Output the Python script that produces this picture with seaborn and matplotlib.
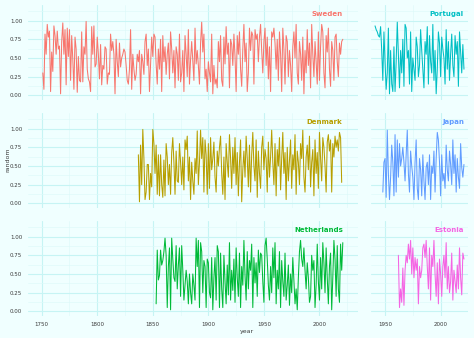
import matplotlib
matplotlib.use("Agg")
import matplotlib.pyplot as plt
import numpy as np
import pandas as pd
import seaborn as sns

# ---- data: yearly "random" values per country ----
sweden_start = 1751
sweden = [
    0.30, 0.08, 0.82, 0.55, 0.95, 0.78, 0.86, 0.05, 0.58, 0.32,
    0.93, 0.80, 0.55, 0.86, 0.62, 0.66, 0.02, 0.72, 0.97, 0.55,
    0.88, 0.14, 0.90, 0.52, 0.88, 0.20, 0.80, 0.48, 0.08, 0.78,
    0.62, 0.04, 0.52, 0.20, 0.18, 0.85, 0.18, 0.65, 0.55, 0.99,
    0.35, 0.22, 0.18, 0.05, 0.92, 0.55, 0.93, 0.38, 0.42, 0.78,
    0.55, 0.22, 0.68, 0.14, 0.40, 0.35, 0.65, 0.62, 0.15, 0.30,
    0.28, 0.82, 0.60, 0.72, 0.55, 0.02, 0.75, 0.45, 0.25, 0.70,
    0.38, 0.50, 0.55, 0.62, 0.58, 0.40, 0.20, 0.15, 0.35, 0.88,
    0.08, 0.55, 0.35, 0.20, 0.28, 0.55, 0.45, 0.60, 0.02, 0.55,
    0.45, 0.28, 0.72, 0.82, 0.40, 0.62, 0.05, 0.40, 0.78, 0.52,
    0.82, 0.78, 0.42, 0.15, 0.62, 0.35, 0.75, 0.05, 0.80, 0.45,
    0.65, 0.28, 0.55, 0.70, 0.22, 0.85, 0.62, 0.30, 0.60, 0.10,
    0.65, 0.55, 0.20, 0.82, 0.18, 0.30, 0.60, 0.05, 0.80, 0.55,
    0.25, 0.88, 0.15, 0.48, 0.72, 0.45, 0.20, 0.90, 0.42, 0.60,
    0.40, 0.15, 0.70, 0.98, 0.58, 0.82, 0.22, 0.35, 0.05, 0.45,
    0.30, 0.18, 0.82, 0.02, 0.40, 0.15, 0.22, 0.10, 0.72, 0.45,
    0.80, 0.20, 0.12, 0.78, 0.42, 0.92, 0.55, 0.70, 0.10, 0.75,
    0.68, 0.40, 0.82, 0.52, 0.05, 0.80, 0.55, 0.85, 0.35, 0.12,
    0.62, 0.95, 0.45, 0.70, 0.05, 0.30, 0.90, 0.60, 0.85, 0.80,
    0.15, 0.88, 0.75, 0.82, 0.45, 0.78, 0.95, 0.60, 0.30, 0.72,
    0.90, 0.40, 0.78, 0.22, 0.65, 0.05, 0.85, 0.78, 0.90, 0.70,
    0.35, 0.75, 0.20, 0.85, 0.55, 0.05, 0.90, 0.62, 0.15, 0.80,
    0.72, 0.25, 0.60, 0.40, 0.05, 0.65, 0.85, 0.50, 0.95, 0.30,
    0.15, 0.72, 0.55, 0.20, 0.78, 0.02, 0.60, 0.30, 0.88, 0.40,
    0.70, 0.10, 0.95, 0.55, 0.25, 0.72, 0.45, 0.15, 0.85, 0.20,
    0.65, 0.95, 0.85, 0.30, 0.10, 0.80, 0.58, 0.90, 0.35, 0.12,
    0.72, 0.60, 0.20, 0.78, 0.82, 0.45, 0.25, 0.70, 0.55, 0.72,
    0.75,
]

denmark_start = 1837
denmark = [
    0.65, 0.02, 0.78, 0.25, 0.99, 0.60, 0.05, 0.15, 0.52, 0.52,
    0.05, 0.40, 0.22, 0.99, 0.80, 0.40, 0.78, 0.12, 0.65, 0.10,
    0.65, 0.25, 0.08, 0.58, 0.10, 0.80, 0.62, 0.25, 0.52, 0.12,
    0.68, 0.88, 0.55, 0.12, 0.70, 0.30, 0.28, 0.80, 0.55, 0.25,
    0.62, 0.18, 0.85, 0.72, 0.90, 0.30, 0.62, 0.05, 0.55, 0.30,
    0.12, 0.60, 0.40, 0.97, 0.25, 0.55, 0.98, 0.60, 0.88, 0.15,
    0.85, 0.65, 0.12, 0.80, 0.20, 0.88, 0.45, 0.60, 0.82, 0.35,
    0.15, 0.70, 0.50, 0.75, 0.90, 0.40, 0.12, 0.62, 0.05, 0.80,
    0.55, 0.35, 0.92, 0.60, 0.20, 0.75, 0.40, 0.88, 0.25, 0.68,
    0.10, 0.55, 0.85, 0.02, 0.45, 0.70, 0.35, 0.90, 0.60, 0.22,
    0.78, 0.15, 0.65, 0.95, 0.50, 0.30, 0.85, 0.08, 0.70, 0.40,
    0.20, 0.75, 0.90, 0.45, 0.72, 0.60, 0.15, 0.82, 0.35, 0.62,
    0.98, 0.55, 0.25, 0.80, 0.10, 0.72, 0.50, 0.88, 0.18, 0.60,
    0.95, 0.40, 0.68, 0.05, 0.75, 0.30, 0.58, 0.85, 0.20, 0.65,
    0.45, 0.92, 0.12, 0.70, 0.55, 0.25, 0.80, 0.60, 0.98, 0.35,
    0.15, 0.62, 0.78, 0.45, 0.90, 0.22, 0.55, 0.72, 0.10, 0.85,
    0.40, 0.68, 0.20, 0.95, 0.60, 0.30, 0.88, 0.75, 0.50, 0.15,
    0.82, 0.92, 0.70, 0.85, 0.15, 0.80, 0.62, 0.90, 0.75, 0.85,
    0.70, 0.95, 0.88, 0.28,
]

netherlands_start = 1853
netherlands = [
    0.10, 0.82, 0.42, 0.48, 0.82, 0.62, 0.68, 0.80, 0.98, 0.75,
    0.05, 0.60, 0.85, 0.02, 0.98, 0.70, 0.45, 0.40, 0.88, 0.30,
    0.62, 0.85, 0.20, 0.88, 0.55, 0.15, 0.35, 0.55, 0.40, 0.10,
    0.50, 0.25, 0.10, 0.50, 0.35, 0.15, 0.98, 0.60, 0.95, 0.05,
    0.92, 0.80, 0.25, 0.68, 0.60, 0.05, 0.70, 0.65, 0.25, 0.18,
    0.72, 0.02, 0.45, 0.72, 0.15, 0.88, 0.80, 0.05, 0.78, 0.30,
    0.05, 0.75, 0.40, 0.10, 0.62, 0.22, 0.92, 0.15, 0.55, 0.28,
    0.70, 0.12, 0.85, 0.45, 0.20, 0.78, 0.05, 0.60, 0.35, 0.95,
    0.48, 0.15, 0.80, 0.30, 0.68, 0.55, 0.90, 0.05, 0.72, 0.38,
    0.65, 0.20, 0.82, 0.52, 0.78, 0.75, 0.40, 0.12, 0.88, 0.98,
    0.70, 0.35, 0.15, 0.60, 0.25, 0.85, 0.45, 0.92, 0.10, 0.55,
    0.30, 0.80, 0.05, 0.68, 0.40, 0.20, 0.78, 0.15, 0.35, 0.62,
    0.08, 0.50, 0.25, 0.72, 0.40, 0.10, 0.30, 0.02, 0.45, 0.80,
    0.95, 0.70, 0.60, 0.85, 0.55, 0.30, 0.65, 0.45, 0.12, 0.20,
    0.75, 0.55, 0.68, 0.05, 0.35, 0.90, 0.40, 0.15, 0.72, 0.30,
    0.92, 0.65, 0.25, 0.85, 0.45, 0.10, 0.60, 0.78, 0.02, 0.45,
    0.95, 0.70, 0.20, 0.88, 0.30, 0.12, 0.90, 0.55, 0.92,
]

portugal_start = 1941
portugal = [
    0.93, 0.88, 0.85, 0.80, 0.78, 0.92, 0.60, 0.20, 0.85, 0.45,
    0.08, 0.30, 0.90, 0.02, 0.60, 0.15, 0.05, 0.65, 0.05, 0.45,
    0.98, 0.55, 0.10, 0.60, 0.30, 0.75, 0.12, 0.95, 0.90, 0.50,
    0.60, 0.15, 0.85, 0.05, 0.50, 0.35, 0.20, 0.78, 0.65, 0.25,
    0.40, 0.88, 0.60, 0.35, 0.10, 0.72, 0.55, 0.92, 0.15, 0.80,
    0.45, 0.30, 0.95, 0.20, 0.60, 0.02, 0.35, 0.85, 0.70, 0.25,
    0.78, 0.62, 0.50, 0.15, 0.88, 0.35, 0.72, 0.20, 0.55, 0.82,
    0.40, 0.25, 0.80, 0.55, 0.72, 0.12, 0.85, 0.58, 0.30, 0.68,
    0.35,
]

japan_start = 1948
japan = [
    0.15, 0.55, 0.60, 0.08, 0.98, 0.40, 0.05, 0.35, 0.78, 0.55,
    0.10, 0.92, 0.15, 0.85, 0.35, 0.80, 0.50, 0.60, 0.75, 0.55,
    0.30, 0.65, 0.98, 0.40, 0.15, 0.70, 0.50, 0.35, 0.05, 0.55,
    0.85, 0.20, 0.05, 0.60, 0.45, 0.10, 0.65, 0.30, 0.05, 0.48,
    0.55, 0.25, 0.65, 0.05, 0.50, 0.40, 0.70, 0.15, 0.60, 0.95,
    0.85, 0.55, 0.10, 0.65, 0.30, 0.40, 0.20, 0.78, 0.45, 0.30,
    0.70, 0.52, 0.25, 0.85, 0.40, 0.65, 0.15, 0.60, 0.35, 0.20,
    0.80, 0.48, 0.35, 0.52,
]

estonia_start = 1962
estonia = [
    0.75, 0.05, 0.30, 0.12, 0.58, 0.08, 0.55, 0.75, 0.65, 0.90,
    0.70, 0.95, 0.50, 0.85, 0.45, 0.72, 0.55, 0.70, 0.10, 0.60,
    0.45, 0.55, 0.85, 0.90, 0.72, 0.95, 0.60, 0.30, 0.85, 0.15,
    0.75, 0.60, 0.95, 0.50, 0.20, 0.65, 0.10, 0.70, 0.50, 0.20,
    0.60, 0.75, 0.45, 0.92, 0.30, 0.60, 0.25, 0.40, 0.78, 0.15,
    0.55, 0.40, 0.25, 0.62, 0.30, 0.85, 0.45, 0.22, 0.78, 0.70,
]

countries = ["Sweden", "Portugal", "Denmark", "Japan", "Netherlands", "Estonia"]
colors = ["#F8766D", "#00BFC4", "#B79F00", "#619CFF", "#00BA38", "#F564E3"]

series = {
    "Sweden": (sweden_start, sweden),
    "Portugal": (portugal_start, portugal),
    "Denmark": (denmark_start, denmark),
    "Japan": (japan_start, japan),
    "Netherlands": (netherlands_start, netherlands),
    "Estonia": (estonia_start, estonia),
}

frames = []
for name, (start, vals) in series.items():
    frames.append(pd.DataFrame({
        "country": name,
        "year": np.arange(start, start + len(vals)),
        "random": vals,
    }))
df = pd.concat(frames, ignore_index=True)

# ---- styling ----
bg = "#F0FFFF"
grid_major = "#C6F4F4"
grid_minor = "#DDF9F9"
text_col = "#3a3a3a"

sns.set_style("white")
plt.rcParams["font.family"] = ["DejaVu Sans"]

W, H = 474, 338
fig = plt.figure(figsize=(W / 100, H / 100), dpi=100, facecolor=bg)


def add_panel(left, top, right, bottom):
    return fig.add_axes([left / W, 1 - bottom / H, (right - left) / W, (bottom - top) / H])


col_px = [(27.8, 357.8), (370.6, 468.4)]
col_xlim = [(1737.5, 2034.5), (1937.0, 2025.0)]
col_major = [np.arange(1750, 2001, 50), np.array([1950, 2000])]
col_minor = [np.arange(1775, 2030, 50), np.array([1975])]
row_px = [(5, 100), (113, 208), (221, 316)]
ylim = (-0.063, 1.21)

for i, (name, color) in enumerate(zip(countries, colors)):
    r, c = divmod(i, 2)
    ax = add_panel(col_px[c][0], row_px[r][0], col_px[c][1], row_px[r][1])
    ax.set_facecolor(bg)
    sub = df[df["country"] == name]
    sns.lineplot(data=sub, x="year", y="random", ax=ax, color=color,
                 linewidth=0.75, legend=False)
    ax.set_xticks(col_major[c])
    ax.set_xticks(col_minor[c], minor=True)
    ax.set_yticks([0, 0.25, 0.5, 0.75, 1.0])
    ax.set_yticks([0.125, 0.375, 0.625, 0.875, 1.125], minor=True)
    ax.set_xlim(*col_xlim[c])
    ax.set_ylim(*ylim)
    ax.grid(True, which="major", color=grid_major, linewidth=0.8)
    ax.grid(True, which="minor", color=grid_minor, linewidth=0.45)
    ax.set_axisbelow(True)
    for s in ax.spines.values():
        s.set_visible(False)
    ax.tick_params(which="both", length=0, labelsize=4, labelcolor=text_col, pad=4)
    ax.set_xlabel("")
    ax.set_ylabel("")
    if r < 2:
        ax.set_xticklabels([])
    if c == 1:
        ax.set_yticklabels([])
    else:
        ax.set_yticklabels(["0.00", "0.25", "0.50", "0.75", "1.00"])
    # country name at the end of its series
    last_year = sub["year"].max()
    ax.text(last_year, 1.09, name, color=color, fontsize=5, fontweight="bold",
            ha="right", va="center")

fig.text(247 / W, 1 - 331 / H, "year", fontsize=4.5, color=text_col, ha="center", va="center")
fig.text(8 / W, 1 - 160 / H, "random", fontsize=4.5, color=text_col, ha="center",
         va="center", rotation=90)

fig.savefig("out.png", dpi=100, facecolor=bg)
